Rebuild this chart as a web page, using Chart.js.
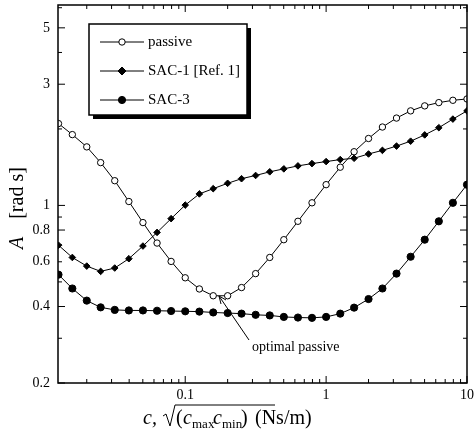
<!DOCTYPE html>
<html>
<head>
<meta charset="utf-8">
<script src="https://cdn.jsdelivr.net/npm/chart.js@4/dist/chart.umd.min.js"></script>
<style>
  body { margin: 0; background: #fff; }
  #wrap { width: 474px; height: 439px; }
</style>
</head>
<body>
<div id="wrap"><canvas id="chart"></canvas></div>
<script>
// damping values: 10^(k/10), k = -19 .. 10
const cValues = [0.0126, 0.0158, 0.02, 0.0251, 0.0316, 0.0398, 0.0501, 0.0631, 0.0794, 0.1,
    0.126, 0.158, 0.2, 0.251, 0.316, 0.398, 0.501, 0.631, 0.794, 1,
    1.26, 1.58, 2, 2.51, 3.16, 3.98, 5.01, 6.31, 7.94, 10];
const passive = [2.10, 1.90, 1.70, 1.474, 1.251, 1.036, 0.856, 0.711, 0.602, 0.519,
    0.469, 0.441, 0.441, 0.475, 0.539, 0.624, 0.733, 0.866, 1.024, 1.207,
    1.414, 1.627, 1.834, 2.035, 2.207, 2.356, 2.465, 2.539, 2.593, 2.624];
const sac1 = [0.697, 0.624, 0.577, 0.550, 0.567, 0.617, 0.692, 0.783, 0.887, 1.003,
    1.11, 1.164, 1.222, 1.274, 1.312, 1.356, 1.393, 1.431, 1.461, 1.488,
    1.515, 1.533, 1.594, 1.647, 1.712, 1.790, 1.895, 2.023, 2.187, 2.356];
const sac3 = [0.534, 0.471, 0.422, 0.397, 0.388, 0.386, 0.386, 0.385, 0.384, 0.383,
    0.382, 0.379, 0.377, 0.375, 0.371, 0.369, 0.364, 0.362, 0.361, 0.364,
    0.375, 0.396, 0.428, 0.471, 0.539, 0.628, 0.733, 0.866, 1.024, 1.207];
const yLabels = [0.2, 0.4, 0.6, 0.8, 1, 3, 5];
const xLabels = [0.1, 1, 10];
const seriesNames = ['passive', 'SAC-1 [Ref. 1]', 'SAC-3'];

const serif = '"Liberation Serif", "DejaVu Serif", serif';

function pts(vals) {
    return cValues.map((c, i) => ({ x: c, y: vals[i] }));
}

function yMinorTicks() {
    const t = [];
    [0.1, 1].forEach(d => { for (let m = 1; m <= 9; m++) t.push(m * d); });
    return t.filter(v => v >= 0.2 && v <= 6);
}

function xMinorTicks() {
    const t = [];
    [0.01, 0.1, 1].forEach(d => { for (let m = 1; m <= 9; m++) t.push(m * d); });
    t.push(10);
    return t.filter(v => v >= 0.0125 && v <= 10);
}

const framePlugin = {
    id: 'frame',
    afterDraw(chart) {
        const { ctx, chartArea: a } = chart;
        const xs = chart.scales.x, ys = chart.scales.y;
        ctx.save();
        ctx.strokeStyle = '#000';
        ctx.lineWidth = 1.5;
        ctx.strokeRect(a.left, a.top, a.right - a.left, a.bottom - a.top);
        ctx.lineWidth = 1;
        // y ticks on both sides
        yMinorTicks().forEach(v => {
            const p = ys.getPixelForValue(v);
            const len = yLabels.includes(v) ? 7 : 4;
            ctx.beginPath();
            ctx.moveTo(a.left, p); ctx.lineTo(a.left + len, p);
            ctx.moveTo(a.right, p); ctx.lineTo(a.right - len, p);
            ctx.stroke();
        });
        xMinorTicks().forEach(v => {
            const p = xs.getPixelForValue(v);
            const len = xLabels.includes(v) ? 7 : 4;
            ctx.beginPath();
            ctx.moveTo(p, a.bottom); ctx.lineTo(p, a.bottom - len);
            ctx.moveTo(p, a.top); ctx.lineTo(p, a.top + len);
            ctx.stroke();
        });
        ctx.fillStyle = '#000';
        ctx.font = '14px ' + serif;
        ctx.textAlign = 'right';
        ctx.textBaseline = 'middle';
        yLabels.forEach(v => ctx.fillText(String(v), a.left - 8, ys.getPixelForValue(v)));
        ctx.textAlign = 'center';
        ctx.textBaseline = 'top';
        xLabels.forEach(v => ctx.fillText(String(v), xs.getPixelForValue(v), a.bottom + 5));

        // y title
        ctx.save();
        ctx.translate(18, 205);
        ctx.rotate(-Math.PI / 2);
        ctx.textAlign = 'center';
        ctx.textBaseline = 'middle';
        ctx.font = 'italic 20px ' + serif;
        ctx.fillText('A', -38, 0);
        ctx.font = '20px ' + serif;
        ctx.fillText('[rad s]', 12, 0);
        ctx.restore();

        // x title
        ctx.textBaseline = 'alphabetic';
        ctx.textAlign = 'left';
        let x = 143, y = 424;
        ctx.font = 'italic 20px ' + serif;
        ctx.fillText('c,', x, y); x += 20;
        ctx.font = '20px ' + serif;
        ctx.beginPath();
        ctx.moveTo(x, y - 8); ctx.lineTo(x + 3, y - 10); ctx.lineTo(x + 7, y + 2);
        ctx.lineTo(x + 12, y - 19); ctx.lineTo(x + 112, y - 19);
        ctx.stroke();
        x += 13;
        ctx.fillText('(', x, y); x += 7;
        ctx.font = 'italic 20px ' + serif; ctx.fillText('c', x, y); x += 9;
        ctx.font = '13px ' + serif; ctx.fillText('max', x, y + 4); x += 21;
        ctx.font = 'italic 20px ' + serif; ctx.fillText('c', x, y); x += 9;
        ctx.font = '13px ' + serif; ctx.fillText('min', x, y + 4); x += 19;
        ctx.font = '20px ' + serif; ctx.fillText(')', x, y); x += 14;
        ctx.fillText('(Ns/m)', x, y);

        // legend box with shadow
        const lx = 89, ly = 24, lw = 158, lh = 91;
        ctx.fillStyle = '#000';
        ctx.fillRect(lx + 4, ly + 4, lw, lh);
        ctx.fillStyle = '#fff';
        ctx.fillRect(lx, ly, lw, lh);
        ctx.lineWidth = 1.5;
        ctx.strokeRect(lx, ly, lw, lh);
        ctx.lineWidth = 1;
        const rows = [ly + 18, ly + 47, ly + 76];
        ctx.font = '15px ' + serif;
        ctx.textBaseline = 'middle';
        rows.forEach((ry, i) => {
            ctx.strokeStyle = '#000';
            ctx.beginPath(); ctx.moveTo(100, ry); ctx.lineTo(144, ry); ctx.stroke();
            const ds = chart.data.datasets[i];
            ctx.fillStyle = ds.pointBackgroundColor;
            ctx.beginPath();
            if (ds.pointStyle === 'rectRot') {
                ctx.moveTo(122, ry - 4); ctx.lineTo(126, ry); ctx.lineTo(122, ry + 4); ctx.lineTo(118, ry);
                ctx.closePath();
            } else {
                ctx.arc(122, ry, ds.pointRadius, 0, Math.PI * 2);
            }
            ctx.fill(); ctx.stroke();
            ctx.fillStyle = '#000';
            ctx.fillText(seriesNames[i], 148, ry);
        });

        // annotation
        ctx.font = '14px ' + serif;
        ctx.textBaseline = 'middle';
        ctx.fillText('optimal passive', 252, 347);
        ctx.beginPath();
        ctx.moveTo(249, 340); ctx.lineTo(219, 296);
        ctx.moveTo(219, 296); ctx.lineTo(221, 304);
        ctx.moveTo(219, 296); ctx.lineTo(226, 300);
        ctx.stroke();
        ctx.restore();
    }
};

function ds(label, vals, style, fill, r) {
    return {
        label, data: pts(vals),
        borderColor: '#000', borderWidth: 1,
        pointStyle: style, pointRadius: r, pointBackgroundColor: fill,
        pointBorderColor: '#000', pointBorderWidth: 1,
        tension: 0, fill: false
    };
}

new Chart(document.getElementById('chart'), {
    type: 'line',
    data: {
        datasets: [
            ds(seriesNames[0], passive, 'circle', '#fff', 3.2),
            ds(seriesNames[1], sac1, 'rectRot', '#000', 3.3),
            ds(seriesNames[2], sac3, 'circle', '#000', 3.6)
        ]
    },
    options: {
        responsive: true,
        maintainAspectRatio: false,
        animation: false,
        devicePixelRatio: 1,
        layout: { padding: { left: 58, right: 7, top: 1, bottom: 56 } },
        plugins: { legend: { display: false }, tooltip: { enabled: false } },
        scales: {
            x: { type: 'logarithmic', min: 0.0125, max: 10, display: false },
            y: { type: 'logarithmic', min: 0.2, max: 6.15, display: false }
        }
    },
    plugins: [framePlugin]
});
</script>
</body>
</html>
